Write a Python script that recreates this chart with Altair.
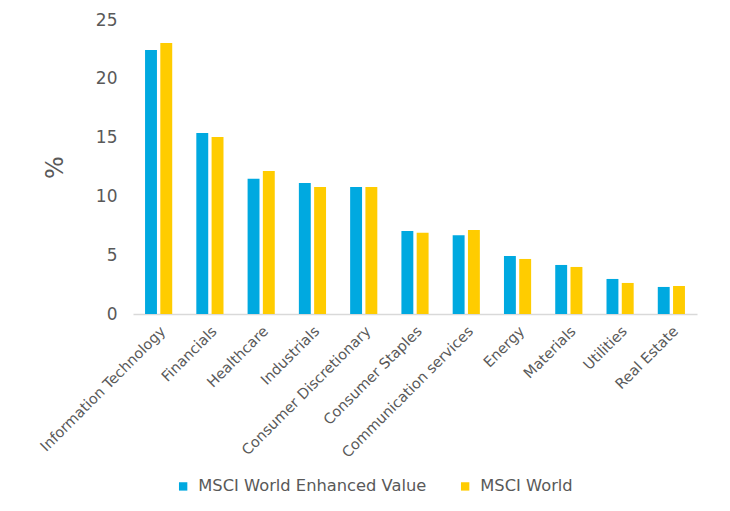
import altair as alt
import pandas as pd

# Sector weights (%) for the two indices
sectors = [
    "Information Technology", "Financials", "Healthcare", "Industrials",
    "Consumer Discretionary", "Consumer Staples", "Communication services",
    "Energy", "Materials", "Utilities", "Real Estate",
]
enhanced_value = [22.45, 15.4, 11.5, 11.15, 10.8, 7.05, 6.7, 4.93, 4.17, 2.98, 2.3]
msci_world = [23.05, 15.05, 12.15, 10.8, 10.8, 6.9, 7.15, 4.68, 4.0, 2.64, 2.38]

series_names = ["MSCI World Enhanced Value", "MSCI World"]
series_colors = ["#00A9E0", "#FFCC00"]

rows = []
for i, s in enumerate(sectors):
    rows.append({"sector": s, "index": series_names[0], "weight": enhanced_value[i]})
    rows.append({"sector": s, "index": series_names[1], "weight": msci_world[i]})
df = pd.DataFrame(rows)

FONT = "DejaVu Sans"
TEXT = "#595959"

chart = (
    alt.Chart(df)
    .mark_bar()
    .encode(
        x=alt.X(
            "sector:N",
            sort=sectors,
            title=None,
            scale=alt.Scale(paddingInner=0.47, paddingOuter=0.235),
            axis=alt.Axis(
                labelAngle=-45,
                labelAlign="right",
                labelBaseline="top",
                labelFontSize=14.5,
                labelColor=TEXT,
                labelPadding=10,
                labelFont=FONT,
                labelLimit=300,
                ticks=False,
                domainColor="#D9D9D9",
                domainWidth=1.5,
            ),
        ),
        xOffset=alt.XOffset(
            "index:N",
            sort=series_names,
            scale=alt.Scale(paddingInner=0.22, paddingOuter=0),
        ),
        y=alt.Y(
            "weight:Q",
            title="%",
            scale=alt.Scale(domain=[0, 25], nice=False),
            axis=alt.Axis(
                values=[0, 5, 10, 15, 20, 25],
                grid=False,
                domain=False,
                ticks=False,
                labelFontSize=17,
                labelColor=TEXT,
                labelPadding=16,
                labelFont=FONT,
                titleFontSize=24,
                titleFontWeight="normal",
                titleColor=TEXT,
                titleFont=FONT,
                titlePadding=28,
            ),
        ),
        color=alt.Color(
            "index:N",
            sort=series_names,
            scale=alt.Scale(domain=series_names, range=series_colors),
            legend=alt.Legend(
                title=None,
                orient="none",
                direction="horizontal",
                legendX=42,
                legendY=458,
                symbolType="square",
                symbolSize=70,
                symbolStrokeWidth=0,
                labelFontSize=16.3,
                labelColor=TEXT,
                labelFont=FONT,
                labelLimit=400,
                labelOffset=7,
                columnPadding=30,
            ),
        ),
    )
    .properties(
        width=564,
        height=294,
        autosize=alt.AutoSizeParams(type="none"),
        padding={"left": 133, "top": 20, "right": 33, "bottom": 197},
    )
    .configure(background="white")
    .configure_view(strokeWidth=0, stroke="transparent")
)

chart.save("out.html", embed_options={"renderer": "svg", "actions": False})
